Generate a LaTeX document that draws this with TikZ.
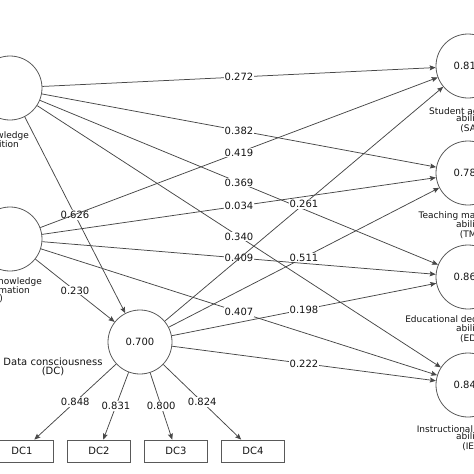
\documentclass[tikz,border=0pt]{standalone}
\usepackage{fontspec}
\setmainfont{DejaVu Sans}
\usetikzlibrary{arrows.meta}
\begin{document}
\begin{tikzpicture}[x=1pt,y=-1pt,
  lv/.style={circle,draw=black!65,line width=0.8pt,minimum size=64pt,inner sep=0pt,font=\fontsize{10}{12}\selectfont,text=black!92},
  ind/.style={rectangle,draw=black!65,line width=0.8pt,minimum width=63pt,minimum height=22pt,inner sep=0pt,font=\fontsize{10}{12}\selectfont,text=black!92},
  pth/.style={draw=black!72,line width=0.75pt,-{Stealth[length=6pt,width=5pt,inset=1pt]}},
  coef/.style={fill=white,inner sep=1pt,font=\fontsize{10}{12}\selectfont,text=black!92},
  lbl/.style={align=center,inner sep=0pt,font=\fontsize{9}{7.5}\selectfont,text=black!92}]
\useasboundingbox (0,0) rectangle (474,474);
\clip (0,0) rectangle (474,474);
% latent variables
\node[lv] (ka) at (10,88) {};
\node[lv] (ki) at (10,239) {};
\node[lv] (dc) at (140,342) {0.700};
\node[lv] (sa) at (468,66) {0.81\phantom{0}};
\node[lv] (tm) at (468,173) {0.78\phantom{0}};
\node[lv] (ed) at (468,277) {0.86\phantom{0}};
\node[lv] (ie) at (468,385) {0.84\phantom{0}};
% indicators
\node[ind] (dc1) at (22,451) {DC1};
\node[ind] (dc2) at (99,451) {DC2};
\node[ind] (dc3) at (176,451) {DC3};
\node[ind] (dc4) at (253,451) {DC4};
% construct labels
\node[lbl,align=right,anchor=north east] (kalbl) at (29,131) {Data knowledge\\acquisition\kern10pt};
\node[lbl,align=right,anchor=north east] (kilbl) at (42,277) {Data knowledge\\information\kern12pt\\(DKI)\kern39pt};
\node[lbl,anchor=north,font=\fontsize{10}{8.5}\selectfont] (dclbl) at (53,358) {Data consciousness\\(DC)};
\node[lbl,anchor=north] (salbl) at (470,107) {Student academic\\ability\\(SA)};
\node[lbl,anchor=north] (tmlbl) at (470,211) {Teaching management\\ability\\(TM)};
\node[lbl,anchor=north] (edlbl) at (470,315) {Educational decision-making\\ability\\(ED)};
\node[lbl,anchor=north] (ielbl) at (470,425) {Instructional evaluation\\ability\\(IE)};
% structural paths
\draw[pth] (ka) -- node[coef]{0.272} (sa);
\draw[pth] (ka) -- node[coef]{0.382} (tm);
\draw[pth] (ka) -- node[coef]{0.369} (ed);
\draw[pth] (ka) -- node[coef]{0.340} (ie);
\draw[pth] (ka) -- node[coef]{0.626} (dc);
\draw[pth] (ki) -- node[coef]{0.419} (sa);
\draw[pth] (ki) -- node[coef]{0.034} (tm);
\draw[pth] (ki) -- node[coef]{0.409} (ed);
\draw[pth] (ki) -- node[coef]{0.407} (ie);
\draw[pth] (ki) -- node[coef]{0.230} (dc);
\draw[pth] (dc) -- node[coef]{0.261} (sa);
\draw[pth] (dc) -- node[coef]{0.511} (tm);
\draw[pth] (dc) -- node[coef]{0.198} (ed);
\draw[pth] (dc) -- node[coef]{0.222} (ie);
% loadings
\draw[pth] (dc) -- node[coef]{0.848} (dc1);
\draw[pth] (dc) -- node[coef]{0.831} (dc2);
\draw[pth] (dc) -- node[coef]{0.800} (dc3);
\draw[pth] (dc) -- node[coef]{0.824} (dc4);
\end{tikzpicture}
\end{document}
